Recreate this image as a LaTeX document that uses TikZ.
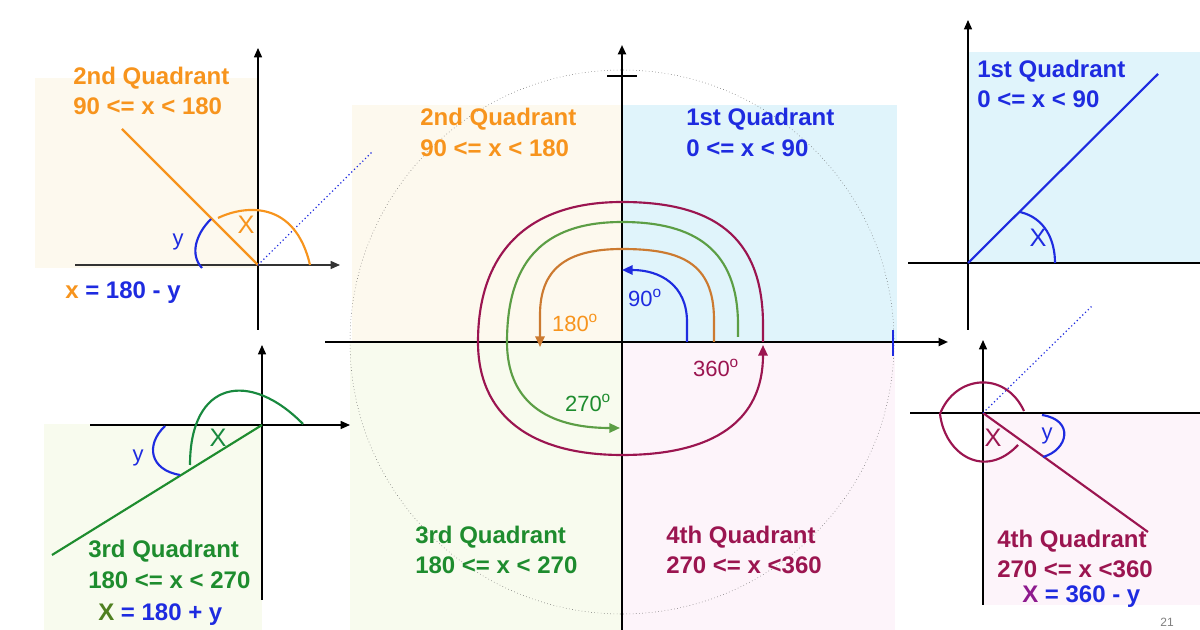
\documentclass[tikz,border=0pt]{standalone}
\usepackage{fontspec}
\setmainfont{Liberation Sans}
\usetikzlibrary{arrows.meta}
\definecolor{cream}{HTML}{FDF9EE}
\definecolor{lblue}{HTML}{E0F4FB}
\definecolor{lgreen}{HTML}{F8FBEE}
\definecolor{lpink}{HTML}{FDF4FA}
\definecolor{qorange}{HTML}{F7941D}
\definecolor{qblue}{HTML}{1E2BE0}
\definecolor{qgreen}{HTML}{1E8C2E}
\definecolor{qmaroon}{HTML}{9B1550}
\definecolor{aorange}{HTML}{CC7A30}
\definecolor{agreen}{HTML}{5C9E45}
\definecolor{xolive}{HTML}{4F8020}
\definecolor{xpurple}{HTML}{8E1A8E}
\tikzset{
 ttl/.style={anchor=west,inner sep=0pt,font=\fontsize{18}{20}\selectfont\bfseries},
 lbl/.style={inner sep=0pt,font=\fontsize{16.5}{18}\selectfont},
 big/.style={inner sep=0pt,font=\fontsize{19}{20}\selectfont},
 axis/.style={line width=1pt,-{Triangle[length=7pt,width=6pt]}},
 ang/.style={line width=1.6pt},
 arr/.style={line width=1.6pt,-{Triangle[length=8pt,width=7pt]}}
}
\begin{document}
\begin{tikzpicture}[x=0.75pt,y=-0.75pt]
\useasboundingbox (0,0) rectangle (1200,630);
\fill[white] (0,0) rectangle (1200,630);
% backgrounds
\fill[cream] (35,78) rectangle (258,268);
\fill[cream] (352,105) rectangle (622,342);
\fill[lblue] (622,105) rectangle (897,342);
\fill[lgreen] (350,342) rectangle (622,630);
\fill[lpink] (622,342) rectangle (895,630);
\fill[lblue] (968,52) rectangle (1200,262);
\fill[lgreen] (44,424) rectangle (262,630);
\fill[lpink] (983,413) rectangle (1200,605);
% central
\draw[dotted,gray!70!black] (622,342) circle [radius=272];
\coordinate (cO) at (622,342);
\coordinate (cL) at (325,342); \coordinate (cR) at (948,342);
\coordinate (cB) at (622,630); \coordinate (cT) at (622,45);
\draw[axis,line width=1.5pt] (cL) -- (cR);
\draw[axis,line width=1.5pt] (cB) -- (cT);
\draw[line width=1.5pt] (607,76) -- (637,76);
\draw[qblue,line width=1.5pt] (893,330) -- (893,356);
\node[ttl,text=qorange] (t2) at (420,119) {2nd Quadrant};
\node[ttl,text=qorange] (r2) at (420,148) {90 <= x < 180};
\node[ttl,text=qblue] (t1) at (686,119) {1st Quadrant};
\node[ttl,text=qblue] (r1) at (686,148) {0 <= x < 90};
\node[ttl,text=qgreen] (t3) at (415,537) {3rd Quadrant};
\node[ttl,text=qgreen] (r3) at (415,565) {180 <= x < 270};
\node[ttl,text=qmaroon] (t4) at (666,537) {4th Quadrant};
\node[ttl,text=qmaroon] (r4) at (666,565) {270 <= x <360};
% rotation arrows
\draw[arr,qblue] (687,342) -- (687,322) .. controls (687,285) and (660,270) .. (622,270);
\draw[arr,aorange] (714,342) -- (714,320) .. controls (714,262) and (680,249) .. (622,249) .. controls (565,249) and (540,270) .. (540,315) -- (540,347);
\draw[arr,agreen] (738,337) -- (738,325) .. controls (738,250) and (695,222) .. (622,222) .. controls (540,222) and (507,265) .. (507,342) .. controls (507,400) and (545,428) .. (620,428);
\draw[arr,qmaroon] (763,342) -- (763,325) .. controls (763,235) and (712,202) .. (622,202) .. controls (525,202) and (478,255) .. (478,342) .. controls (478,415) and (530,455) .. (622,455) .. controls (715,455) and (763,420) .. (763,345);
\node[lbl,text=qblue] (a90) at (645,298) {90\textsuperscript{o}};
\node[lbl,text=qorange] (a180) at (575,323) {180\textsuperscript{o}};
\node[lbl,text=qgreen] (a270) at (588,403) {270\textsuperscript{o}};
\node[lbl,text=qmaroon] (a360) at (716,368) {360\textsuperscript{o}};
% TL panel
\coordinate (lO) at (258,265);
\draw[axis] (258,330) -- (258,48);
\draw[axis,gray!40!black] (75,265) -- (340,265);
\draw[qorange,ang] (122,129) -- (lO);
\draw[qblue,dotted,line width=0.9pt] (lO) -- (372,152);
\draw[qorange,ang] (218,218) .. controls (245,205) and (295,200) .. (310,265);
\draw[qblue,ang] (211,219) .. controls (195,235) and (190,255) .. (202,268);
\node[big,text=qorange] (lx) at (246,225) {X};
\node[lbl,text=qblue] (ly) at (178,242) {y};
\node[ttl,text=qorange] (lt) at (73,78) {2nd Quadrant};
\node[ttl,text=qorange] (lr) at (73,106) {90 <= x < 180};
\node[ttl] (le) at (65,293) {\textcolor{qorange}{x} \textcolor{qblue}{= 180 - y}};
% TR panel
\coordinate (rO) at (968,263);
\draw[axis] (968,330) -- (968,20);
\draw[line width=1pt] (908,263) -- (1200,263);
\draw[qblue,ang] (rO) -- (1158,74);
\draw[qblue,ang] (1020,212) .. controls (1045,218) and (1055,240) .. (1055,263);
\node[big,text=qblue] (rx) at (1038,238) {X};
\node[ttl,text=qblue] (rt) at (977,71) {1st Quadrant};
\node[ttl,text=qblue] (rr) at (977,99) {0 <= x < 90};
% BL panel
\coordinate (bO) at (262,425);
\draw[axis] (262,600) -- (262,345);
\draw[axis] (90,425) -- (350,425);
\draw[qgreen,ang] (52,555) -- (bO);
\draw[qgreen!80!teal,ang] (190,465) .. controls (190,380) and (250,370) .. (303,424);
\draw[qblue,ang] (165,426) .. controls (145,445) and (150,470) .. (180,475);
\node[big,text=qgreen!80!teal] (bx) at (218,438) {X};
\node[lbl,text=qblue] (by) at (138,458) {y};
\node[ttl,text=qgreen] (bt) at (88,551) {3rd Quadrant};
\node[ttl,text=qgreen] (br) at (88,580) {180 <= x < 270};
\node[ttl] (be) at (98,615) {\textcolor{xolive}{X} \textcolor{qblue}{= 180 + y}};
% BR panel
\coordinate (dO) at (983,413);
\draw[axis] (983,605) -- (983,340);
\draw[line width=1pt] (910,413) -- (1200,413);
\draw[qmaroon,ang] (dO) -- (1148,532);
\draw[qblue,dotted,line width=0.9pt] (dO) -- (1093,305);
\draw[qmaroon,ang] (1024,411) .. controls (1005,370) and (955,375) .. (940,414) .. controls (945,455) and (985,480) .. (1018,445);
\draw[qblue,ang] (1042,415) .. controls (1075,420) and (1068,450) .. (1043,457);
\node[big,text=qmaroon] (dx) at (993,438) {X};
\node[lbl,text=qblue] (dy) at (1047,436) {y};
\node[ttl,text=qmaroon] (dt) at (997,541) {4th Quadrant};
\node[ttl,text=qmaroon] (dr) at (997,569) {270 <= x <360};
\node[ttl] (de) at (1022,597) {\textcolor{xpurple}{X} \textcolor{qblue}{= 360 - y}};
\node[lbl,text=gray,font=\fontsize{9}{10}\selectfont] (pg) at (1167,622) {21};
\end{tikzpicture}
\end{document}
